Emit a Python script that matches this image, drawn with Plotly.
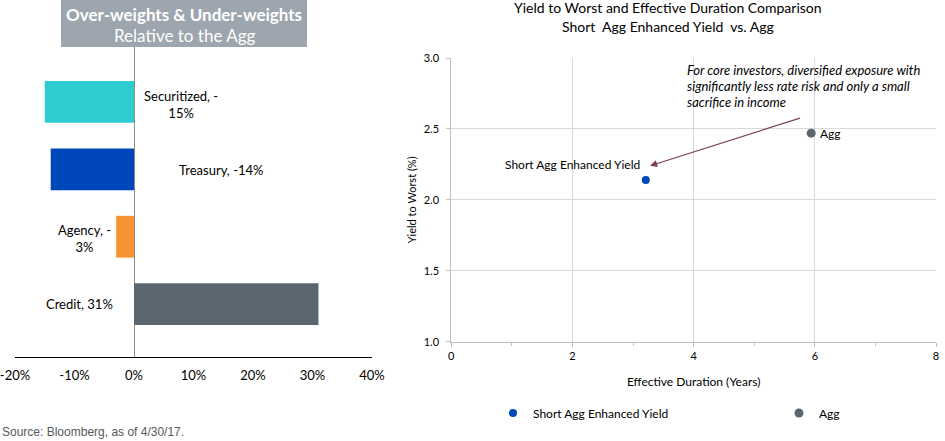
import plotly.graph_objects as go

# ---- data ----
sectors = ["Securitized", "Treasury", "Agency", "Credit"]
weights = [-15, -14, -3, 31]
sector_colors = ["#2ECBCF", "#0047BB", "#F69332", "#5B6770"]
bar_labels = ["Securitized, -<br>15%", "Treasury, -14%", "Agency, -<br>3%", "Credit, 31%"]
pct_ticks = [-20, -10, 0, 10, 20, 30, 40]
pct_ticklabels = ["-20%", "-10%", "0%", "10%", "20%", "30%", "40%"]

series_names = ["Short Agg Enhanced Yield", "Agg"]
durations = [3.21, 5.94]
ytw = [2.14, 2.47]
series_colors = ["#0047BB", "#5B6770"]

W, H = 945, 441
FONT = "Lato"

def px(x):
    return x / W

def py(y):
    return 1 - y / H

fig = go.Figure()

ypos = list(range(len(sectors)))
fig.add_trace(go.Bar(
    x=weights, y=ypos, orientation="h",
    marker=dict(color=sector_colors, line=dict(width=0)),
    width=0.62, showlegend=False, hoverinfo="skip",
    xaxis="x", yaxis="y",
))

legend_ids = ["legend", "legend2"]
for i, n in enumerate(series_names):
    fig.add_trace(go.Scatter(
        x=[durations[i]], y=[ytw[i]], mode="markers", name=n,
        marker=dict(color=series_colors[i], size=8 if i == 0 else 9),
        xaxis="x2", yaxis="y2", legend=legend_ids[i],
    ))

annotations = []
label_pos = [(181, 104), (221, 170), (84, 238), (79, 304)]
for (lx, ly), t in zip(label_pos, bar_labels):
    annotations.append(dict(
        x=px(lx), y=py(ly), xref="paper", yref="paper", text=t, showarrow=False,
        xanchor="center", yanchor="middle", align="center",
        font=dict(family=FONT, size=13, color="#000000"),
    ))

annotations.append(dict(x=px(184), y=py(14), xref="paper", yref="paper",
                        text="<b>Over-weights & Under-weights</b>", showarrow=False,
                        xanchor="center", yanchor="middle",
                        font=dict(family=FONT, size=17, color="white")))
annotations.append(dict(x=px(184), y=py(36), xref="paper", yref="paper",
                        text="Relative to the Agg", showarrow=False,
                        xanchor="center", yanchor="middle",
                        font=dict(family=FONT, size=17, color="white")))

annotations.append(dict(x=0, y=py(432), xref="paper", yref="paper",
                        text="Source: Bloomberg, as of 4/30/17.", showarrow=False,
                        xanchor="left", yanchor="middle",
                        font=dict(family="Liberation Sans", size=12, color="#595959")))

annotations.append(dict(x=px(668), y=py(8), xref="paper", yref="paper",
                        text="Yield to Worst and Effective Duration Comparison", showarrow=False,
                        xanchor="center", yanchor="middle",
                        font=dict(family=FONT, size=14, color="#000000")))
annotations.append(dict(x=px(668), y=py(27), xref="paper", yref="paper",
                        text="Short  Agg Enhanced Yield  vs. Agg", showarrow=False,
                        xanchor="center", yanchor="middle",
                        font=dict(family=FONT, size=14, color="#000000")))

comment_lines = ["For core investors, diversified exposure with",
                 "significantly less rate risk and only a small",
                 "sacrifice in income"]
for k, line in enumerate(comment_lines):
    annotations.append(dict(x=px(685), y=py(70 + 16 * k), xref="paper", yref="paper",
                            text="<i>" + line + "</i>", showarrow=False,
                            xanchor="left", yanchor="middle",
                            font=dict(family=FONT, size=13, color="#000000")))

annotations.append(dict(x=3.28, y=2.24, ax=5.78, ay=2.58,
                        xref="x2", yref="y2", axref="x2", ayref="y2",
                        text="", showarrow=True, arrowhead=2, arrowsize=1.2,
                        arrowwidth=1.2, arrowcolor="#7B3F5C"))

annotations.append(dict(x=px(642), y=py(164), xref="paper", yref="paper",
                        text="Short Agg Enhanced Yield", showarrow=False,
                        xanchor="right", yanchor="middle",
                        font=dict(family=FONT, size=12, color="#000000")))
annotations.append(dict(x=px(818), y=py(133), xref="paper", yref="paper",
                        text="Agg", showarrow=False,
                        xanchor="left", yanchor="middle",
                        font=dict(family=FONT, size=12, color="#000000")))

shapes = [dict(type="rect", xref="paper", yref="paper",
               x0=px(61), x1=px(307), y0=py(47), y1=1,
               fillcolor="#9DA5AE", line=dict(width=0), layer="below")]

legend_common = dict(orientation="h", xanchor="left", yanchor="middle",
                     font=dict(family=FONT, size=12, color="#000000"),
                     bgcolor="rgba(0,0,0,0)", itemwidth=30)

fig.update_layout(
    width=W, height=H,
    margin=dict(l=0, r=0, t=0, b=0),
    paper_bgcolor="white", plot_bgcolor="white",
    font=dict(family=FONT, size=12, color="#000000"),
    xaxis=dict(domain=[px(15), px(372)], range=[-20, 40],
               tickvals=pct_ticks, ticktext=pct_ticklabels,
               showgrid=False, zeroline=True, zerolinecolor="#8C8C8C", zerolinewidth=1,
               showline=True, linecolor="#000000", linewidth=1, ticks="",
               ticklabelstandoff=6, ticklabeloverflow="allow",
               tickfont=dict(family=FONT, size=13, color="#000000"),
               anchor="y", fixedrange=True, automargin=False),
    yaxis=dict(domain=[py(357), py(47)], range=[3.785, -0.815],
               showticklabels=False, showgrid=False, zeroline=False, showline=False,
               anchor="x", fixedrange=True, automargin=False),
    xaxis2=dict(domain=[px(451.3), px(936)], range=[0, 8], dtick=2, tick0=0,
                showgrid=True, gridcolor="#D9D9D9", gridwidth=1,
                zeroline=False, showline=True, linecolor="#BFBFBF", linewidth=1,
                mirror=False, ticks="outside", ticklen=4, tickcolor="#BFBFBF",
                ticklabeloverflow="allow",
                minor=dict(dtick=1, ticks="outside", ticklen=3, tickcolor="#BFBFBF", showgrid=False),
                tickfont=dict(family=FONT, size=11, color="#000000"),
                title=dict(text="Effective Duration (Years)", standoff=16,
                           font=dict(family=FONT, size=12, color="#000000")),
                anchor="y2", fixedrange=True, automargin=False),
    yaxis2=dict(domain=[py(341.7), py(58)], range=[1, 3], dtick=0.5, tick0=1,
                tickformat=".1f",
                showgrid=True, gridcolor="#D9D9D9", gridwidth=1,
                zeroline=False, showline=True, linecolor="#BFBFBF", linewidth=1,
                ticks="outside", ticklen=4, tickcolor="#BFBFBF",
                ticklabelstandoff=5,
                tickfont=dict(family=FONT, size=11, color="#000000"),
                title=dict(text="Yield to Worst (%)", standoff=4,
                           font=dict(family=FONT, size=11, color="#000000")),
                anchor="x2", fixedrange=True, automargin=False),
    legend=dict(x=px(493), y=py(413), **legend_common),
    legend2=dict(x=px(779), y=py(413), **legend_common),
    annotations=annotations,
    shapes=shapes,
)

fig.write_html("out.html", config={"displayModeBar": False},
               post_script="document.body.style.margin='0';document.body.style.overflow='hidden';")
